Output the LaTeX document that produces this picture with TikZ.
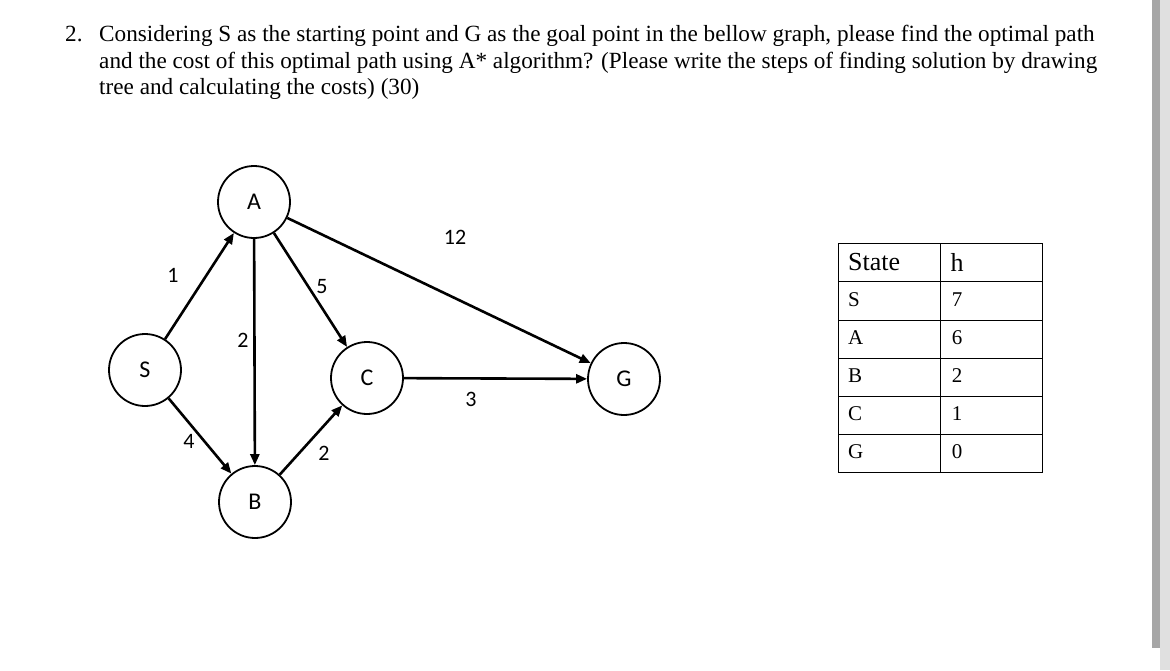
\documentclass[tikz,border=0pt]{standalone}
\usepackage{fontspec}
\setmainfont{Liberation Serif}
\newfontfamily\carfont{Carlito}
\usetikzlibrary{arrows.meta}
\begin{document}
\begin{tikzpicture}[x=1pt,y=-1pt,
 st/.style={circle,draw,line width=1.8pt,minimum size=72pt,inner sep=0pt,font=\carfont\fontsize{24}{24}\selectfont},
 ed/.style={line width=2.6pt,-{Triangle[length=11pt,width=9pt]}},
 lb/.style={font=\carfont\fontsize{22}{22}\selectfont},
 tx/.style={anchor=base west,inner sep=0pt,font=\fontsize{23.2}{23.2}\selectfont},
 tc/.style={font=\fontsize{21}{21}\selectfont,inner sep=0pt}]
\useasboundingbox (0,0) rectangle (1170,670);
\fill[white] (0,0) rectangle (1170,670);
\fill[black!35] (1152,0) rectangle (1160,648);
\fill[black!12] (1160,0) rectangle (1170,670);
\node[tx] (n2) at (65,41) {2.};
\node[tx] (l1) at (99,41) {Considering S as the starting point and G as the goal point in the bellow graph, please find the optimal path};
\node[tx] (l2) at (99,68) {and the cost of this optimal path using A* algorithm? (Please write the steps of finding solution by drawing};
\node[tx] (l3) at (99,94) {tree and calculating the costs) (30)};
\node[st] (S) at (145,370) {S};
\node[st] (A) at (254,202) {A};
\node[st] (C) at (367,378) {C};
\node[st] (G) at (624,379) {G};
\node[st] (B) at (255,502) {B};
\draw[ed] (S) -- (A);
\draw[ed] (S) -- (B);
\draw[ed] (A) -- (B);
\draw[ed] (A) -- (C);
\draw[ed] (B) -- (C);
\draw[ed] (A) -- (G);
\draw[ed] (C) -- (G);
\node[lb] (e1) at (173,275) {1};
\node[lb] (e2) at (189,441) {4};
\node[lb] (e3) at (243,340) {2};
\node[lb] (e4) at (322,287) {5};
\node[lb] (e5) at (324,453) {2};
\node[lb] (e6) at (455,237) {12};
\node[lb] (e7) at (471,399) {3};
\draw[line width=0.9pt] (838,243) rectangle (1042,472);
\foreach \y in {281,320,358,396,434} \draw[line width=0.9pt] (838,\y) -- (1042,\y);
\draw[line width=0.9pt] (940,243) -- (940,472);
\node[tc,font=\fontsize{26}{26}\selectfont,anchor=west] (h1) at (848,262) {State};
\node[tc,font=\fontsize{26}{26}\selectfont] (h2) at (957,262) {h};
\foreach \s/\v/\y in {S/7/300,A/6/338,B/2/376,C/1/414,G/0/452}{
 \node[tc,anchor=west] (s\s) at (848,\y) {\s};
 \node[tc] (v\s) at (957,\y) {\v};}
\end{tikzpicture}
\end{document}
